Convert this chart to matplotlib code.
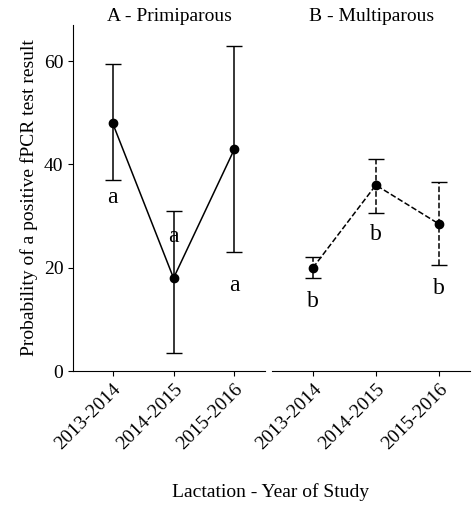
import matplotlib.pyplot as plt

years = ['2013-2014', '2014-2015', '2015-2016']
prim_mean = [48, 18, 43]
prim_low = [37, 3.5, 23]
prim_high = [59.5, 31, 63]
prim_letters = ['a', 'a', 'a']
prim_letter_y = [33.5, 26, 16.5]
multi_mean = [20, 36, 28.5]
multi_low = [18, 30.5, 20.5]
multi_high = [22, 41, 36.5]
multi_letters = ['b', 'b', 'b']
multi_letter_y = [13.5, 26.5, 16]

plt.rcParams['font.family'] = ['Liberation Serif', 'DejaVu Serif']

fig = plt.figure(figsize=(4.74, 5.07), dpi=100)
ax1 = fig.add_axes([0.154, 0.268, 0.405, 0.683])
ax2 = fig.add_axes([0.574, 0.268, 0.418, 0.683])

def panel(ax, mean, low, high, letters, letter_y, ls, title):
    x = range(len(mean))
    yerr = [[m - l for m, l in zip(mean, low)], [h - m for m, h in zip(mean, high)]]
    eb = ax.errorbar(x, mean, yerr=yerr, color='black', linestyle=ls, marker='o',
                     markersize=6, capsize=6, elinewidth=1.1, linewidth=1.1)
    if ls != '-':
        for c in eb[2]:
            c.set_linestyle('--')
    for xi, ly, t in zip(x, letter_y, letters):
        ax.text(xi, ly, t, ha='center', va='center', fontsize=17)
    ax.set_xlim(-0.65, 2.5)
    ax.set_ylim(0, 67)
    ax.set_xticks(list(x))
    ax.set_xticklabels(years, rotation=45, ha='right', rotation_mode='anchor', fontsize=14)
    ax.set_title(title, fontsize=14, pad=2)
    ax.spines['top'].set_visible(False)
    ax.spines['right'].set_visible(False)

panel(ax1, prim_mean, prim_low, prim_high, prim_letters, prim_letter_y, '-', 'A - Primiparous')
panel(ax2, multi_mean, multi_low, multi_high, multi_letters, multi_letter_y, '--', 'B - Multiparous')

ax1.set_yticks([0, 20, 40, 60])
ax1.tick_params(axis='y', labelsize=14)
ax1.set_ylabel('Probability of a positive fPCR test result', fontsize=14)
ax2.spines['left'].set_visible(False)
ax2.set_yticks([])

fig.text(0.57, 0.02, 'Lactation - Year of Study', ha='center', fontsize=14)

plt.savefig('out.png', dpi=100)
